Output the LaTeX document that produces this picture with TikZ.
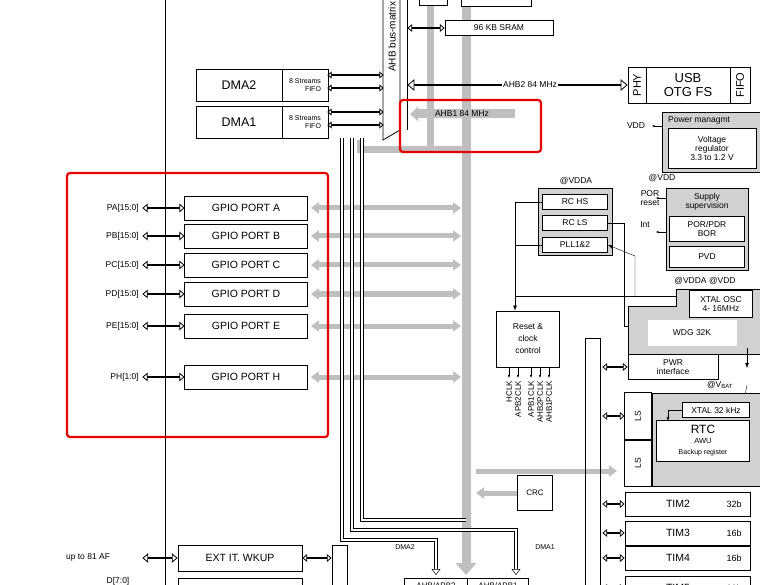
\documentclass[tikz,border=0pt]{standalone}
\usepackage{fontspec}
\setmainfont{Liberation Sans}
\usetikzlibrary{arrows.meta,shapes.arrows}
\newcommand\myarr[4]{\node[harrow,minimum width=#4pt,double arrow head extend={#4*0.45pt},minimum height={(#2-#1)*1pt}] at ({(#1+#2)/2},#3) {};}
\begin{document}
\begin{tikzpicture}[x=1pt,y=-1pt,
 box/.style={draw,thick,fill=white,inner sep=0pt,font=\fontsize{10.5}{11}\selectfont},
 gbox/.style={draw,thick,fill=black!18},
 bus/.style={line width=9pt,black!25},
 gar/.style={line width=5pt,black!25,-{Triangle[length=8pt,width=11pt]}},
 gdar/.style={line width=5pt,black!25,{Triangle[length=8pt,width=11pt]}-{Triangle[length=8pt,width=11pt]}},
 harrow/.style={double arrow,draw,thick,fill=white,inner sep=0pt,double arrow tip angle=80},
 hdn/.style={double,double distance=2.5pt,line width=0.5pt,-{Triangle[open,length=6pt,width=9pt]}},
 lbl/.style={font=\fontsize{8.5}{9}\selectfont,inner sep=0pt},
 red/.style={draw=red!90!black,line width=2.2pt,rounded corners=3pt}]
\useasboundingbox (0,0) rectangle (760,585);
% main gray buses
\draw[bus] (466,0) -- (466,560);
\draw[line width=9pt,black!25,-{Triangle[length=12pt,width=20pt]}] (466,540) -- (466,575);
\draw[line width=7pt,black!25] (430,0) -- (430,150) -- (466,150);
\draw[line width=7pt,black!25] (360,140) -- (360,150) -- (430,150);
\draw[gar] (476,471) -- (617,471);
% black vertical line
\draw[thick] (165,0) -- (165,585);
% GPIO
\foreach \n/\y/\p in {A/208/PA[15:0],B/236/PB[15:0],C/265/PC[15:0],D/294/PD[15:0],E/326/PE[15:0],H/377/PH[1:0]}{
 \node[box,minimum width=123pt,minimum height=24pt] (g\n) at (246,\y) {GPIO PORT \n};
 \node[lbl,anchor=east] (l\n) at (139,\y) {\p};
 \myarr{143}{184}{\y}{7}
 \draw[gdar] (g\n.east) ++(3,0) -- (461,\y);
}
\draw[red] (67,173) rectangle (328,437);
% AHB bus matrix
\draw[thick,fill=white] (383,-2) -- (400,-2) -- (400,130) -- (383,140) -- cycle;
\node[lbl,rotate=90,anchor=west,font=\fontsize{10}{10}\selectfont] (ahbm) at (392,72) {AHB bus-matrix};
\draw[thick] (407,0) -- (407,130);
% top boxes
\node[box,minimum width=28pt,minimum height=7pt] (t1) at (433,2) {};
\node[box,minimum width=70pt,minimum height=8pt] (t2) at (496,2) {};
\node[box,minimum width=108pt,minimum height=15pt,font=\fontsize{8.5}{9}\selectfont] (sram) at (499,28) {96 KB SRAM};
\myarr{408}{444}{28}{6}
% DMA
\foreach \n/\y in {2/85,1/122}{
 \node[box,minimum width=86pt,minimum height=32pt,font=\fontsize{12.5}{13}\selectfont] (dma\n) at (239,\y) {DMA\n};
 \node[box,minimum width=46pt,minimum height=32pt,align=right,font=\fontsize{7}{8}\selectfont] (fifo\n) at (305,\y) {8 Streams\\FIFO};
 \myarr{328}{383}{\y-10}{5}
 \myarr{328}{383}{\y+3}{5}
}
% USB
\node[box,minimum width=122pt,minimum height=36pt] (usb) at (689,85) {};
\node[font=\fontsize{13}{14}\selectfont,align=center,inner sep=0pt] (usbt) at (688,85) {USB\\OTG FS};
\draw[thick] (646,67) -- (646,103) (730,67) -- (730,103);
\node[lbl,rotate=90,font=\fontsize{11}{11}\selectfont] (phy) at (637,85) {PHY};
\node[lbl,rotate=90,font=\fontsize{11}{11}\selectfont] (fifo) at (740,85) {FIFO};
\myarr{408}{627}{85}{10}
\node[lbl,fill=white,inner sep=1pt] (ahb2) at (530,85) {AHB2 84 MHz};
% AHB1
\draw[line width=9pt,black!25,{Triangle[length=8pt,width=14pt]}-] (410,114) -- (515,114);
\node[lbl] (ahb1) at (462,114) {AHB1 84 MHz};
\draw[red] (400,100) rectangle (541,152);
% Power
\draw[gbox] (662,112) rectangle (762,172);
\node[lbl,anchor=west] (pm) at (668,120) {Power managmt};
\node[box,minimum width=88pt,minimum height=40pt,align=center,font=\fontsize{8.5}{9}\selectfont] (vreg) at (712,148) {Voltage\\regulator\\3.3 to 1.2 V};
\node[lbl] (vdd) at (636,126) {VDD};
\draw[-{Stealth[length=3pt]}] (662,126) -- (652,126);
% clocks
\node[lbl] (vdda) at (576,181) {@VDDA};
\draw[gbox] (538,188) rectangle (612,255);
\node[box,minimum width=65pt,minimum height=15pt,font=\fontsize{8.5}{9}\selectfont] (rchs) at (575,202) {RC HS};
\node[box,minimum width=65pt,minimum height=15pt,font=\fontsize{8.5}{9}\selectfont] (rcls) at (575,223) {RC LS};
\node[box,minimum width=65pt,minimum height=15pt,font=\fontsize{8.5}{9}\selectfont] (pll) at (575,245) {PLL1\&2};
\node[box,minimum width=63pt,minimum height=56pt,align=center,font=\fontsize{8.5}{12}\selectfont] (rcc) at (528,339) {Reset \&\\clock\\control};
\draw[thick] (rchs.west) -- (515,202) -- (515,295);
\draw[-{Latex[length=5pt]}] (515,290) -- (rcc.north -| 515,0);
\draw[thick] (pll.west) -- (515,245);
\draw[thick] (rcls.east) -- (624,223) -- (624,326);
\draw[-{Latex[length=5pt]}] (624,326) -- (638,326);
\draw[-{Latex[length=5pt]}] (635,296) -- (635,256) -- (pll.east);
\draw[thick] (515,296) -- (676,296);
\foreach \x/\t in {509/HCLK,518/APB2CLK,531/APB1CLK,540/AHB2PCLK,549/AHB1PCLK}{
 \draw[-{Latex[length=3pt]}] (\x,367) -- (\x,378);
 \node[lbl,rotate=90,anchor=east,font=\fontsize{8}{8}\selectfont] (c\t) at (\x,381) {\t};
}
% supply
\node[lbl] (vddl) at (662,178) {@VDD};
\draw[gbox] (666,188) rectangle (748,270);
\node[lbl,align=center] (ss) at (707,202) {Supply\\supervision};
\node[box,minimum width=75pt,minimum height=25pt,align=center,font=\fontsize{8.5}{9}\selectfont] (por) at (707,229) {POR/PDR\\BOR};
\node[box,minimum width=75pt,minimum height=21pt,font=\fontsize{8.5}{9}\selectfont] (pvd) at (707,257) {PVD};
\node[lbl,align=center] (porr) at (650,198) {POR\\reset};
\draw[-{Stealth[length=3pt]}] (666,198) -- (656,198);
\node[lbl] (int) at (645,225) {Int};
\draw[-{Stealth[length=3pt]}] (666,232) -- (656,232);
% OSC region
\node[lbl] (vv) at (705,281) {@VDDA @VDD};
\draw[gbox] (628,354) -- (628,306) -- (676,306) -- (676,289) -- (760,289) -- (760,354) -- cycle;
\node[box,minimum width=63pt,minimum height=27pt,align=center,font=\fontsize{8.5}{9}\selectfont] (xosc) at (721,304) {XTAL OSC\\4- 16MHz};
\node[draw=none,fill=white,minimum width=89pt,minimum height=26pt,font=\fontsize{8.5}{9}\selectfont,inner sep=0] (wdg) at (692,333) {WDG 32K};
\node[box,minimum width=90pt,minimum height=25pt,align=center,font=\fontsize{8.5}{9}\selectfont] (pwr) at (673,367) {PWR\\interface};
\draw[-{Latex[length=5pt]}] (747,348) -- (747,368);
\draw (747,385) -- (744,400);
\node[lbl] (vbat) at (720,385) {@V\textsubscript{BAT}};
% LS / RTC
\draw[gbox] (652,393) rectangle (762,486);
\node[box,minimum width=27pt,minimum height=47pt] (ls1) at (638,416) {};
\node[box,minimum width=27pt,minimum height=46pt] (ls2) at (638,463) {};
\node[lbl,rotate=90] (lst1) at (638,416) {LS};
\node[lbl,rotate=90] (lst2) at (638,463) {LS};
\node[box,minimum width=67pt,minimum height=15pt,font=\fontsize{8.5}{9}\selectfont] (x32) at (716,410) {XTAL 32 kHz};
\node[box,minimum width=93pt,minimum height=41pt,align=center] (rtc) at (703,441) {\fontsize{12}{13}\selectfont RTC\\[-1pt]\fontsize{7.5}{8}\selectfont AWU\\\fontsize{7}{8}\selectfont Backup register};
\draw[-{Latex[length=4pt]}] (x32.west) -- (668,410) -- (668,421);
\myarr{603}{624}{416}{6}
\myarr{603}{627}{367}{6}
% tall box
\draw[thick] (585,590) -- (585,338) -- (600,338) -- (600,590);
% CRC
\node[box,minimum width=35pt,minimum height=35pt,font=\fontsize{8}{9}\selectfont] (crc) at (535,493) {CRC};
\draw[gar] (crc.west) -- (476,493);
% TIMs
\foreach \n/\y/\b in {2/504/32b,3/533/16b,4/558/16b,5/588/32b}{
 \node[box,minimum width=125pt,minimum height=24pt] (tim\n) at (688,\y) {};
 \node[lbl,font=\fontsize{10.5}{11}\selectfont] (tn\n) at (678,\y) {TIM\n};
 \node[lbl,font=\fontsize{9}{9}\selectfont] (tb\n) at (734,\y) {\b};
 \myarr{603}{624}{\y}{6}
}
% EXT IT
\node[box,minimum width=124pt,minimum height=26pt] (ext) at (240,558) {EXT IT. WKUP};
\node[lbl] (af) at (88,557) {up to 81 AF};
\myarr{143}{177}{558}{8}
\draw[thick] (332,605) -- (332,545) -- (347,545) -- (347,605);
\myarr{303}{331}{558}{6}
\node[box,minimum width=124pt,minimum height=16pt] (fsmc) at (240,586) {};
\node[lbl] (d70) at (118,581) {D[7:0]};
% DMA paths
\draw[hdn] (342,138) -- (342,540) -- (436,540) -- (436,575);
\draw[hdn] (352,138) -- (352,530) -- (516,530) -- (516,575);
\draw[double,double distance=2.5pt,line width=0.5pt] (362,138) -- (362,520) -- (466,520);
\node[lbl,font=\fontsize{7}{8}\selectfont] (dma2l) at (405,547) {DMA2};
\node[lbl,font=\fontsize{7}{8}\selectfont] (dma1l) at (545,547) {DMA1};
\node[box,minimum width=63pt,minimum height=16pt,font=\fontsize{8}{9}\selectfont] (apb2) at (436,586) {AHB/APB2};
\node[box,minimum width=61pt,minimum height=16pt,font=\fontsize{8}{9}\selectfont] (apb1) at (498,586) {AHB/APB1};
\end{tikzpicture}
\end{document}
